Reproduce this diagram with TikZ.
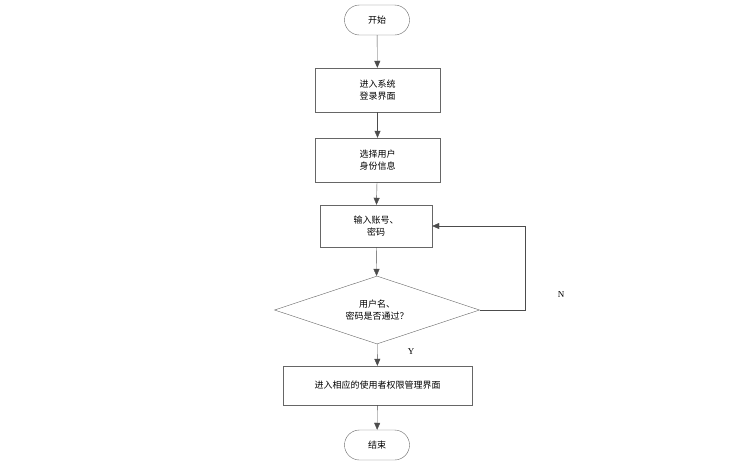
\documentclass[tikz,border=0pt]{standalone}
\usepackage{fontspec}
\setmainfont{Liberation Serif}
\newfontfamily\cjk{Noto Sans CJK SC}
\usetikzlibrary{shapes.geometric,arrows.meta}
\begin{document}
\begin{tikzpicture}[x=1pt,y=-1pt,
  every node/.style={font=\cjk\fontsize{9}{12}\selectfont,align=center,inner sep=0pt},
  box/.style={draw=black!60,minimum width=125pt,minimum height=44pt},
  term/.style={draw=black!60,rounded corners=15pt,minimum width=65pt,minimum height=30pt},
  arr/.style={-{Triangle[length=7pt,width=6pt]},draw=black!70}]
\useasboundingbox (0,0) rectangle (754,469);
\node[term] (s) at (377,20) {开始};
\node[box] (b1) at (377.5,90) {进入系统\\登录界面};
\node[box] (b2) at (377.5,160) {选择用户\\身份信息};
\node[box,minimum width=112pt,minimum height=42pt] (b3) at (376,226) {输入账号、\\密码};
\node[draw=black!60,diamond,aspect=3,minimum width=205pt,minimum height=68pt] (d) at (377,310) {用户名、\\密码是否通过？};
\node[box,minimum width=189pt,minimum height=39pt] (b4) at (377.5,385.5) {进入相应的使用者权限管理界面};
\node[term] (e) at (377,445) {结束};
\draw[arr] (s) -- (b1);
\draw[arr] (b1) -- (b2);
\draw[arr] (b2) -- (b3);
\draw[arr] (b3) -- (d);
\draw[arr] (d) -- (b4);
\draw[arr] (b4) -- (e);
\coordinate (c1) at (525,310);
\coordinate (c2) at (525,226);
\draw[arr] (d.east) -- (c1) -- (c2) -- (b3.east);
\node[font=\rmfamily\fontsize{9}{11}\selectfont] (n) at (561,295) {N};
\node[font=\rmfamily\fontsize{9}{11}\selectfont] (y) at (411,352) {Y};
\end{tikzpicture}
\end{document}
